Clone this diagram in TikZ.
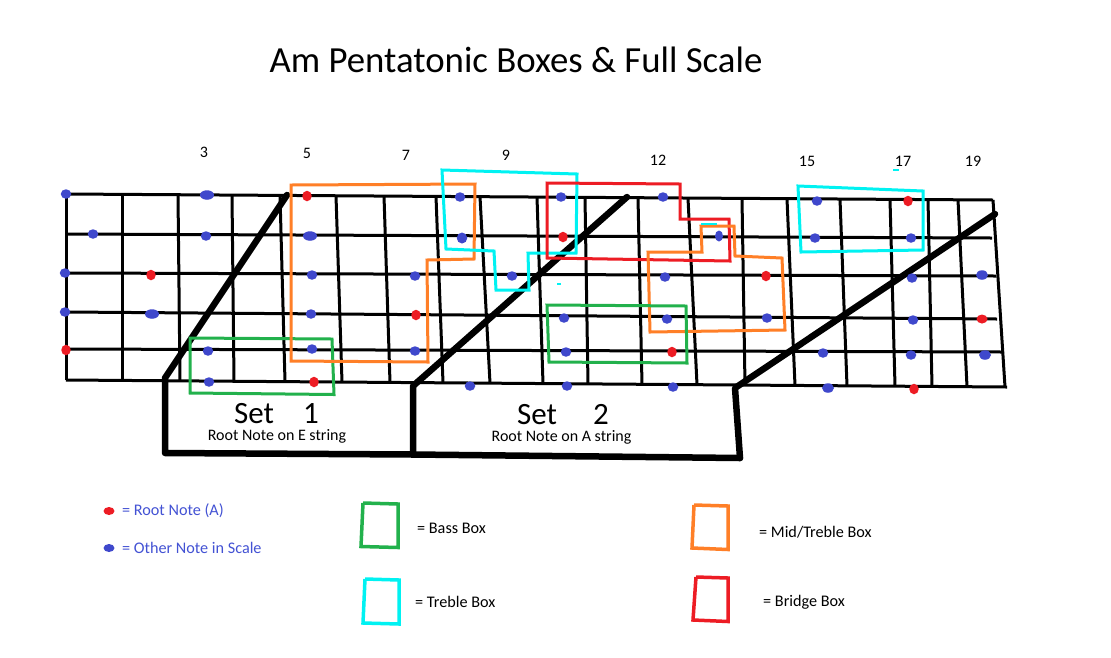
\documentclass[tikz,border=0pt]{standalone}
\usepackage{fontspec}
\setmainfont{Carlito}
\usetikzlibrary{shapes.geometric}
\definecolor{noteblue}{HTML}{3F48CC}
\definecolor{notered}{HTML}{ED1C24}
\definecolor{boxgreen}{HTML}{22B14C}
\definecolor{boxorange}{HTML}{FF7F27}
\definecolor{boxcyan}{HTML}{00F2F2}
\definecolor{boxred}{HTML}{ED1C24}
\definecolor{legblue}{HTML}{4352D4}
\tikzset{
  strline/.style={line width=3pt, black},
  fretline/.style={line width=3pt, black},
  setline/.style={line width=6.5pt, black, line join=round, line cap=round},
  boxline/.style={line width=3pt, line join=miter},
  legbox/.style={line width=3.5pt},
  bdot/.style={ellipse, fill=noteblue, draw=none, minimum width=10.5pt, minimum height=9.5pt, inner sep=0pt},
  bwide/.style={bdot, minimum width=14pt},
  rdot/.style={ellipse, fill=notered, draw=none, minimum width=9.5pt, minimum height=10.5pt, inner sep=0pt},
  fretnum/.style={anchor=base, font=\fontsize{16}{19}\selectfont, inner sep=0pt},
  legtext/.style={anchor=base west, font=\fontsize{16.2}{19}\selectfont, inner sep=0pt},
  settext/.style={anchor=base, font=\fontsize{31}{36}\selectfont, inner sep=0pt},
  subtext/.style={anchor=base, font=\fontsize{16}{19}\selectfont, inner sep=0pt}
}
\begin{document}
\begin{tikzpicture}[x=1pt, y=-1pt]
\useasboundingbox[fill=white] (0,0) rectangle (1111,657);

% title
\node[anchor=base, font=\fontsize{36.8}{42}\selectfont, inner sep=0pt] (title) at (516,72) {Am Pentatonic Boxes \& Full Scale};

% fret numbers
\node[fretnum] (f3) at (204,157) {3};
\node[fretnum] (f5) at (307,158) {5};
\node[fretnum] (f7) at (406,160) {7};
\node[fretnum] (f9) at (506,160) {9};
\node[fretnum] (f12) at (658,165) {12};
\node[fretnum] (f15) at (807,166) {15};
\node[fretnum] (f17) at (903,166) {17};
\node[fretnum] (f19) at (973,166) {19};
\draw[boxcyan, line width=1.5pt] (893,170) -- (899,170);

% strings
\foreach \la/\rx/\ra in {194/993/200, 234/992/238, 273/996/276, 312/997/319, 349/1003/352, 380/1007/387}
  \draw[strline] (66,\la) -- (\rx,\ra);

% frets
\foreach \a/\b in {66/66, 122/122, 178/180, 232/234, 280/285, 336/342, 384/390, 436/443, 480/490, 537/543, 585/588, 638/642, 688/697, 742/745, 787/795, 840/847, 890/895, 928/932, 958/967, 993/1005}
  \draw[fretline] (\a,{194+(\a-66)*6/927}) -- (\b,{380+(\b-66)*7/941});

% set boundaries
\draw[setline] (287,195) -- (165,378) -- (165,453) -- (413,454.5) -- (740,458);
\draw[setline] (627,197) -- (413,386) -- (413,454.5);
\draw[setline] (995,214) -- (735,388) -- (740,458);

% set labels
\node[settext] (set1) at (276.5,423) {Set\hspace{29pt}1};
\node[subtext] (sub1) at (277,440) {Root Note on E string};
\node[settext] (set2) at (563,424) {Set\hspace{36pt}2};
\node[subtext] (sub2) at (561.5,441) {Root Note on A string};

% coloured boxes
\draw[boxline, boxgreen] (190,338) -- (332,339) -- (334,394.5) -- (190,393) -- cycle;
\draw[boxline, boxorange] (291,185) -- (475,184) -- (474,259) -- (427,260) -- (428,362) -- (291,361) -- cycle;
\draw[boxline, boxcyan] (442,170) -- (577,174) -- (576,253) -- (528,253) -- (529,290) -- (496,290) -- (494,251) -- (446,249) -- cycle;
\draw[boxline, boxred] (547,183) -- (680,184) -- (680,219) -- (729,219) -- (730,261) -- (547,258) -- cycle;
\draw[boxline, boxorange] (701,226) -- (734,226) -- (735,256) -- (782,258) -- (785,330) -- (650,332) -- (648,252) -- (702,252) -- cycle;
\draw[boxline, boxgreen] (547,305) -- (686,306) -- (687,363) -- (549,362) -- cycle;
\draw[boxline, boxcyan] (798,186) -- (923,191) -- (923,250) -- (801,252) -- cycle;
\draw[boxcyan, line width=2.5pt] (701,224) -- (717,224);
\draw[boxcyan, line width=1.5pt] (557,284) -- (561,284);

% notes: string 1
\node[bdot] (n1a) at (66,194) {};
\node[bwide] (n1b) at (207,195) {};
\node[rdot] (n1c) at (307,196) {};
\node[bdot] (n1d) at (460,197) {};
\node[bdot] (n1e) at (561,197) {};
\node[bdot] (n1f) at (663,197) {};
\node[bdot] (n1g) at (817,201) {};
\node[rdot] (n1h) at (908,201) {};
% string 2
\node[bdot] (n2a) at (93,234) {};
\node[bdot] (n2b) at (206,236) {};
\node[bwide] (n2c) at (310,236) {};
\node[bdot, minimum height=11pt] (n2d) at (462,238) {};
\node[rdot] (n2e) at (563,237) {};
\node[bdot, minimum width=8pt, minimum height=11pt] (n2f) at (719,236) {};
\node[bdot] (n2g) at (815,238) {};
\node[bdot] (n2h) at (911,238) {};
% string 3
\node[bdot] (n3a) at (65,273) {};
\node[rdot] (n3b) at (151,275) {};
\node[bdot] (n3c) at (312,275) {};
\node[bdot] (n3d) at (415,276) {};
\node[bdot] (n3e) at (512,276) {};
\node[bdot] (n3f) at (665,277) {};
\node[rdot] (n3g) at (766,276) {};
\node[bdot] (n3h) at (912,278) {};
\node[bdot, minimum width=12pt] (n3i) at (982,275) {};
% string 4
\node[bdot] (n4a) at (65,312) {};
\node[bwide] (n4b) at (152,314) {};
\node[bdot] (n4c) at (311,314) {};
\node[rdot] (n4d) at (416,315) {};
\node[bdot] (n4e) at (564,318) {};
\node[bdot] (n4f) at (667,319) {};
\node[bdot] (n4g) at (767,318) {};
\node[bdot] (n4h) at (913,320) {};
\node[rdot, minimum width=11pt, minimum height=9pt] (n4i) at (982,319) {};
% string 5
\node[rdot] (n5a) at (66,350) {};
\node[bdot] (n5b) at (208,351) {};
\node[bdot] (n5c) at (312,349) {};
\node[bdot] (n5d) at (415,351) {};
\node[bdot] (n5e) at (566,352) {};
\node[rdot] (n5f) at (672,352) {};
\node[bdot] (n5g) at (823,353) {};
\node[bdot] (n5h) at (911,355) {};
\node[bdot, minimum width=12pt] (n5i) at (985,355) {};
% string 6
\node[bdot] (n6a) at (209,382) {};
\node[rdot] (n6b) at (314,382) {};
\node[bdot] (n6c) at (470,386) {};
\node[bdot] (n6d) at (567,386) {};
\node[bdot] (n6e) at (673,387) {};
\node[bdot, minimum width=12pt] (n6f) at (828,388) {};
\node[rdot] (n6g) at (914,389) {};

% legend
\node[rdot, minimum width=11pt, minimum height=8pt] (lred) at (109,511) {};
\node[legtext, text=legblue] (lredt) at (122,515) {= Root Note (A)};
\node[bdot, minimum width=11pt, minimum height=8pt] (lblue) at (109,548) {};
\node[legtext, text=legblue] (lbluet) at (122,553) {= Other Note in Scale};

\draw[legbox, boxgreen] (363,503) -- (398,504) -- (398,547.5) -- (361,546.5) -- (363,503);
\node[legtext] (lgreen) at (417,533) {= Bass Box};
\draw[legbox, boxcyan] (365,579) -- (399,580) -- (399,624) -- (363,623) -- (365,579);
\node[legtext] (lcyan) at (415,607) {= Treble Box};
\draw[legbox, boxorange] (694,505) -- (728,506) -- (728,549.5) -- (692,548) -- (694,505);
\node[legtext] (lorange) at (759,537) {= Mid/Treble Box};
\draw[legbox, boxred] (696,577) -- (728,578) -- (728,621.5) -- (693,620) -- (696,577);
\node[legtext] (lredbox) at (763,606) {= Bridge Box};
\end{tikzpicture}
\end{document}
